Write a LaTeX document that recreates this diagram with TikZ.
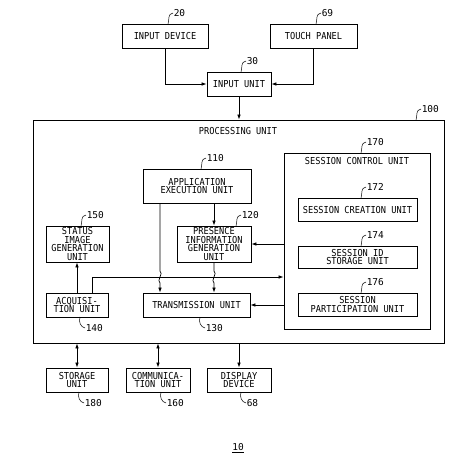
\documentclass[tikz,border=0pt]{standalone}
\usepackage{fontspec}
\newfontfamily\unitfont{DejaVu Sans Mono}[FakeStretch=0.9]
\newfontfamily\numfont{DejaVu Sans Mono}
\usetikzlibrary{arrows.meta}
\tikzset{
  box/.style={draw, line width=0.9pt, inner sep=0pt, align=center,
    font=\unitfont\fontsize{9.6}{8.6}\selectfont},
  txt/.style={inner sep=0pt, align=center, font=\unitfont\fontsize{9.6}{8.6}\selectfont},
  num/.style={inner sep=0.5pt, font=\numfont\fontsize{9.5}{10}\selectfont},
  arr/.style={-{Latex[length=5pt,width=3.6pt]}, line width=0.7pt},
  darr/.style={{Latex[length=5pt,width=3.6pt]}-{Latex[length=5pt,width=3.6pt]}, line width=0.7pt},
  lead/.style={line width=0.5pt},
}
\newcommand\uplab[3]{\draw[lead] (#1,#2) .. controls (#1+1.5,#2-5) and (#1-0.5,#2-10) .. (#1+5,#2-11) node[num,anchor=west] (l#3) {#3};}
\newcommand\dnlab[3]{\draw[lead] (#1,#2) .. controls (#1-1.5,#2+5) and (#1+0.5,#2+10) .. (#1+5,#2+11) node[num,anchor=west] (l#3) {#3};}
\begin{document}
\begin{tikzpicture}[x=1pt,y=-1pt]
\useasboundingbox[fill=white] (0,0) rectangle (474,464);
% top row
\node[box, minimum width=86pt, minimum height=24pt] (in20) at (165,36) {INPUT DEVICE};
\node[box, minimum width=87pt, minimum height=24pt] (tp) at (313.5,36) {TOUCH PANEL};
\node[box, minimum width=64pt, minimum height=24pt] (iu) at (239,84) {INPUT UNIT};
% processing unit
\node[box, minimum width=411pt, minimum height=223pt] (pu) at (238.5,231.5) {};
\node[txt] (putitle) at (238,131) {PROCESSING UNIT};
\node[box, minimum width=146pt, minimum height=176pt] (scu) at (357,241) {};
\node[txt] (scutitle) at (357,161) {SESSION CONTROL UNIT};
\node[box, minimum width=108pt, minimum height=34pt] (ae) at (197,186) {APPLICATION\\EXECUTION UNIT};
\node[box, minimum width=119pt, minimum height=23pt] (scr) at (357.5,209.5) {SESSION CREATION UNIT};
\node[box, minimum width=63pt, minimum height=36pt] (sig) at (77.5,244) {STATUS\\IMAGE\\GENERATION\\UNIT};
\node[box, minimum width=74pt, minimum height=36pt] (pig) at (214,244) {PRESENCE\\INFORMATION\\GENERATION\\UNIT};
\node[box, minimum width=119pt, minimum height=22pt] (sid) at (357.5,257) {SESSION ID\\STORAGE UNIT};
\node[box, minimum width=119pt, minimum height=23pt] (spu) at (357.5,304.5) {SESSION\\PARTICIPATION UNIT};
\node[box, minimum width=62pt, minimum height=24pt] (acq) at (77,305) {ACQUISI-\\TION UNIT};
\node[box, minimum width=107pt, minimum height=24pt] (tx) at (196.5,305) {TRANSMISSION UNIT};
% bottom row
\node[box, minimum width=62pt, minimum height=24pt] (st) at (77,380) {STORAGE\\UNIT};
\node[box, minimum width=64pt, minimum height=24pt] (cm) at (158,380) {COMMUNICA-\\TION UNIT};
\node[box, minimum width=64pt, minimum height=24pt] (dd) at (239,380) {DISPLAY\\DEVICE};
\node[num] (fig) at (238,448) {\underline{10}};
% helper coordinates
\coordinate (xa) at (160,0);
\coordinate (xb) at (92,0);
\coordinate (yc) at (0,277);
% connectors
\draw[arr] (in20.south) |- (iu.west);
\draw[arr] (tp.south) |- (iu.east);
\draw[arr] (iu.south) -- (iu.south |- pu.north);
\draw[arr] (pig.north |- ae.south) -- (pig.north);
\draw[arr] (ae.south -| xa) -- (160,271) .. controls (164,273) and (156,281) .. (160,283) -- (tx.north -| xa);
\draw[arr] (pig.south) -- (214,271) .. controls (218,273) and (210,281) .. (214,283) -- (pig.south |- tx.north);
\draw[arr] (xb |- acq.north) |- (scu.west |- yc);
\draw[arr] (acq.north) -- (acq.north |- sig.south);
\draw[arr] (scu.west |- pig.east) -- (pig.east);
\draw[arr] (scu.west |- tx.east) -- (tx.east);
\draw[darr] (st.north) -- (st.north |- pu.south);
\draw[darr] (cm.north) -- (cm.north |- pu.south);
\draw[arr] (dd.north |- pu.south) -- (dd.north);
% reference labels
\uplab{168}{24}{20}
\uplab{316}{24}{69}
\uplab{241}{72}{30}
\uplab{416}{120}{100}
\uplab{361}{153}{170}
\uplab{201}{169}{110}
\uplab{361}{198}{172}
\uplab{81}{226}{150}
\uplab{236}{226}{120}
\uplab{361}{246}{174}
\uplab{361}{293}{176}
\dnlab{80}{317}{140}
\dnlab{200}{317}{130}
\dnlab{79}{392}{180}
\dnlab{161}{392}{160}
\dnlab{241}{392}{68}
\end{tikzpicture}
\end{document}
